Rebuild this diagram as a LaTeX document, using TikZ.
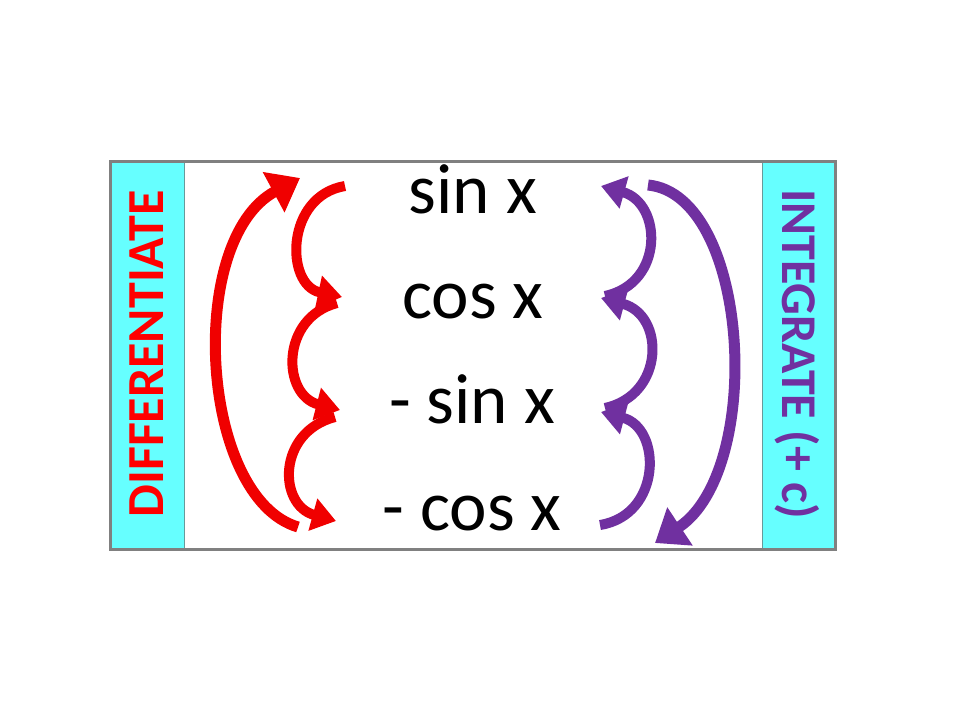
\documentclass[tikz,border=0pt]{standalone}
\usepackage{fontspec}
\setmainfont{Carlito}
\usetikzlibrary{arrows.meta}
\definecolor{bandcyan}{RGB}{102,255,255}
\definecolor{framegrey}{RGB}{128,128,128}
\definecolor{arrred}{RGB}{240,0,0}
\definecolor{arrpurple}{RGB}{112,48,160}
\tikzset{
  fn/.style={anchor=base, inner sep=0pt, font=\fontsize{71}{80}\selectfont},
  side/.style={inner sep=0pt, font=\fontsize{52}{60}\selectfont\bfseries},
  redarr/.style={draw=arrred, line width=10pt, -{Triangle[width=32pt,length=24pt]}},
  bigred/.style={draw=arrred, line width=11pt, -{Triangle[width=44pt,length=30pt]}},
  purparr/.style={draw=arrpurple, line width=10pt, -{Triangle[width=32pt,length=24pt]}},
  bigpurp/.style={draw=arrpurple, line width=11pt, -{Triangle[width=44pt,length=30pt]}},
}
\begin{document}
\begin{tikzpicture}[x=1pt,y=-1pt]
\useasboundingbox (0,0) rectangle (960,720);
\fill[white] (0,0) rectangle (960,720);
% frame and bands
\node[draw=framegrey, line width=3pt, minimum width=725pt, minimum height=388pt, inner sep=0pt] (frame) at (472.5,355) {};
\fill[bandcyan] (110,161) rectangle (184,549);
\fill[bandcyan] (762,161) rectangle (835,549);
\draw[framegrey!80!cyan, line width=1pt] (184,161) -- (184,549);
\draw[framegrey!80!cyan, line width=1pt] (762,161) -- (762,549);
\draw[framegrey, line width=3pt] (110,161) rectangle (835,549);
% side labels
\node[side, text=red, rotate=90] (diff) at (147,354) {DIFFERENTIATE};
\node[side, text=arrpurple, rotate=-90, font=\fontsize{50}{60}\selectfont\bfseries] (integ) at (797,354) {INTEGRATE (+ c)};
% functions
\node[fn] (f1) at (473,213) {sin x};
\node[fn] (f2) at (473,318) {cos x};
\node[fn] (f3) at (472,423) {- sin x};
\node[fn] (f4) at (472,530) {- cos x};
% anchor points
\coordinate (r1s) at (345,186);
\coordinate (r1e) at (342,297);
\coordinate (r2s) at (337,303);
\coordinate (r2e) at (340,410);
\coordinate (r3s) at (335,417);
\coordinate (r3e) at (336,521);
\coordinate (rbs) at (298,527);
\coordinate (rbe) at (300,178);
\coordinate (p1s) at (600,525);
\coordinate (p1e) at (601,412);
\coordinate (p2s) at (605,408);
\coordinate (p2e) at (601,298);
\coordinate (p3s) at (605,296);
\coordinate (p3e) at (601,186);
\coordinate (pbs) at (648,185);
\coordinate (pbe) at (655,543);
% red arrows
\draw[bigred] (rbs) .. controls (200,498) and (185,240) .. (rbe);
\draw[redarr] (r1s) .. controls (285,196) and (285,285) .. (r1e);
\draw[redarr] (r2s) .. controls (280,318) and (282,395) .. (r2e);
\draw[redarr] (r3s) .. controls (277,432) and (278,505) .. (r3e);
% purple arrows
\draw[purparr] (p1s) .. controls (662,515) and (662,428) .. (p1e);
\draw[purparr] (p2s) .. controls (665,395) and (665,315) .. (p2e);
\draw[purparr] (p3s) .. controls (665,283) and (662,203) .. (p3e);
\draw[bigpurp] (pbs) .. controls (750,195) and (765,470) .. (pbe);
\end{tikzpicture}
\end{document}
